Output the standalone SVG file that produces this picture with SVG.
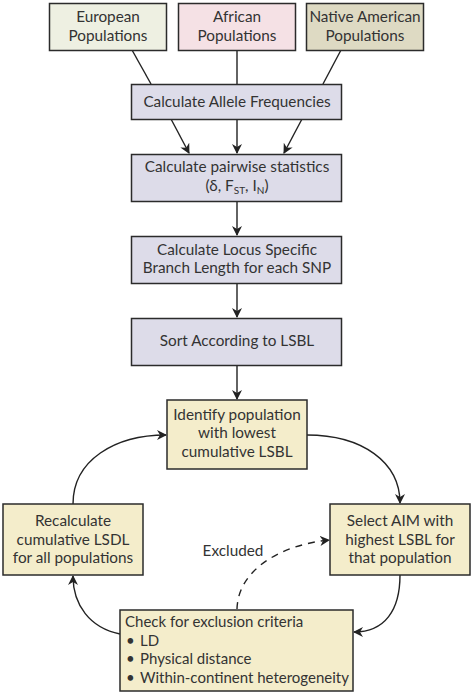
<svg xmlns="http://www.w3.org/2000/svg" width="474" height="695" viewBox="0 0 474 695">
<defs>
<style>
.box{stroke:#2b2b2b;stroke-width:1.5}
.t{font-family:"Lato","Open Sans",sans-serif;font-size:15.3px;fill:#333;text-anchor:middle}
.tl{font-family:"Lato","Open Sans",sans-serif;font-size:15px;fill:#333}
.c{fill:none;stroke:#222;stroke-width:1.4}
.eu{fill:#eef0e2}.af{fill:#f5e1e5}.na{fill:#dedac3}.bl{fill:#dddce9}.ye{fill:#f4edcb}
</style>
<marker id="ah" viewBox="0 0 10 10" refX="9" refY="5" markerWidth="10" markerHeight="10" markerUnits="userSpaceOnUse" orient="auto">
<path d="M0,0 L10,5 L0,10 L3,5 Z" fill="#222"/>
</marker>
</defs>
<rect width="474" height="695" fill="#fff"/>
<g id="connectors">
<line class="c" x1="132" y1="50" x2="151" y2="84"/>
<line class="c" x1="237" y1="50" x2="237" y2="84"/>
<line class="c" x1="341" y1="50" x2="323" y2="84"/>
<line class="c" x1="171" y1="119" x2="189" y2="153" marker-end="url(#ah)"/>
<line class="c" x1="237" y1="119" x2="237" y2="153" marker-end="url(#ah)"/>
<line class="c" x1="302" y1="119" x2="284" y2="153" marker-end="url(#ah)"/>
<line class="c" x1="237" y1="201" x2="237" y2="235" marker-end="url(#ah)"/>
<line class="c" x1="237" y1="283" x2="237" y2="317" marker-end="url(#ah)"/>
<line class="c" x1="237" y1="365" x2="237" y2="399" marker-end="url(#ah)"/>
<path class="c" d="M73,504 C73,460 115,435 166,435" marker-end="url(#ah)"/>
<path class="c" d="M307,435 C362,435 400,462 400,503" marker-end="url(#ah)"/>
<path class="c" d="M400,575 C400,610 385,632 354,632" marker-end="url(#ah)"/>
<path class="c" d="M120,634 C90,628 73,605 73,576" marker-end="url(#ah)"/>
<path class="c" d="M237,609 C238,570 280,545 329,540" stroke-dasharray="7,6" marker-end="url(#ah)"/>
<text class="t" x="233" y="556">Excluded</text>
</g>
<g id="european"><rect class="box eu" x="49.5" y="3.5" width="117" height="47"/><text class="t" x="108" y="22">European</text><text class="t" x="108" y="41">Populations</text></g>
<g id="african"><rect class="box af" x="178.5" y="3.5" width="117" height="47"/><text class="t" x="237" y="22">African</text><text class="t" x="237" y="41">Populations</text></g>
<g id="native"><rect class="box na" x="306.5" y="3.5" width="117" height="47"/><text class="t" x="365" y="22">Native American</text><text class="t" x="365" y="41">Populations</text></g>
<g id="allele"><rect class="box bl" x="131.5" y="84.5" width="210" height="35"/><text class="t" x="237" y="107">Calculate Allele Frequencies</text></g>
<g id="pairwise"><rect class="box bl" x="131.5" y="154.5" width="210" height="47"/><text class="t" x="237" y="172">Calculate pairwise statistics</text><text class="t" x="237" y="191">(δ, F<tspan font-size="10" dy="3">ST</tspan><tspan dy="-3">, I</tspan><tspan font-size="10" dy="3">N</tspan><tspan dy="-3">)</tspan></text></g>
<g id="locus"><rect class="box bl" x="131.5" y="236.5" width="210" height="47"/><text class="t" x="237" y="255">Calculate Locus Specific</text><text class="t" x="237" y="273">Branch Length for each SNP</text></g>
<g id="sort"><rect class="box bl" x="131.5" y="318.5" width="210" height="47"/><text class="t" x="237" y="346">Sort According to LSBL</text></g>
<g id="identify"><rect class="box ye" x="167" y="400" width="140" height="69"/><text class="t" x="237" y="420">Identify population</text><text class="t" x="237" y="438">with lowest</text><text class="t" x="237" y="457">cumulative LSBL</text></g>
<g id="recalculate"><rect class="box ye" x="3" y="504" width="140" height="71"/><text class="t" x="73" y="526">Recalculate</text><text class="t" x="73" y="545">cumulative LSDL</text><text class="t" x="73" y="563">for all populations</text></g>
<g id="select"><rect class="box ye" x="330" y="504" width="140" height="71"/><text class="t" x="400" y="526">Select AIM with</text><text class="t" x="400" y="545">highest LSBL for</text><text class="t" x="400" y="563">that population</text></g>
<g id="check"><rect class="box ye" x="120" y="610" width="233" height="81"/><text class="tl" x="125" y="627">Check for exclusion criteria</text><text class="tl" x="126" y="646">•</text><text class="tl" x="140" y="646">LD</text><text class="tl" x="126" y="664">•</text><text class="tl" x="140" y="664">Physical distance</text><text class="tl" x="126" y="683">•</text><text class="tl" x="140" y="683">Within-continent heterogeneity</text></g>
</svg>
